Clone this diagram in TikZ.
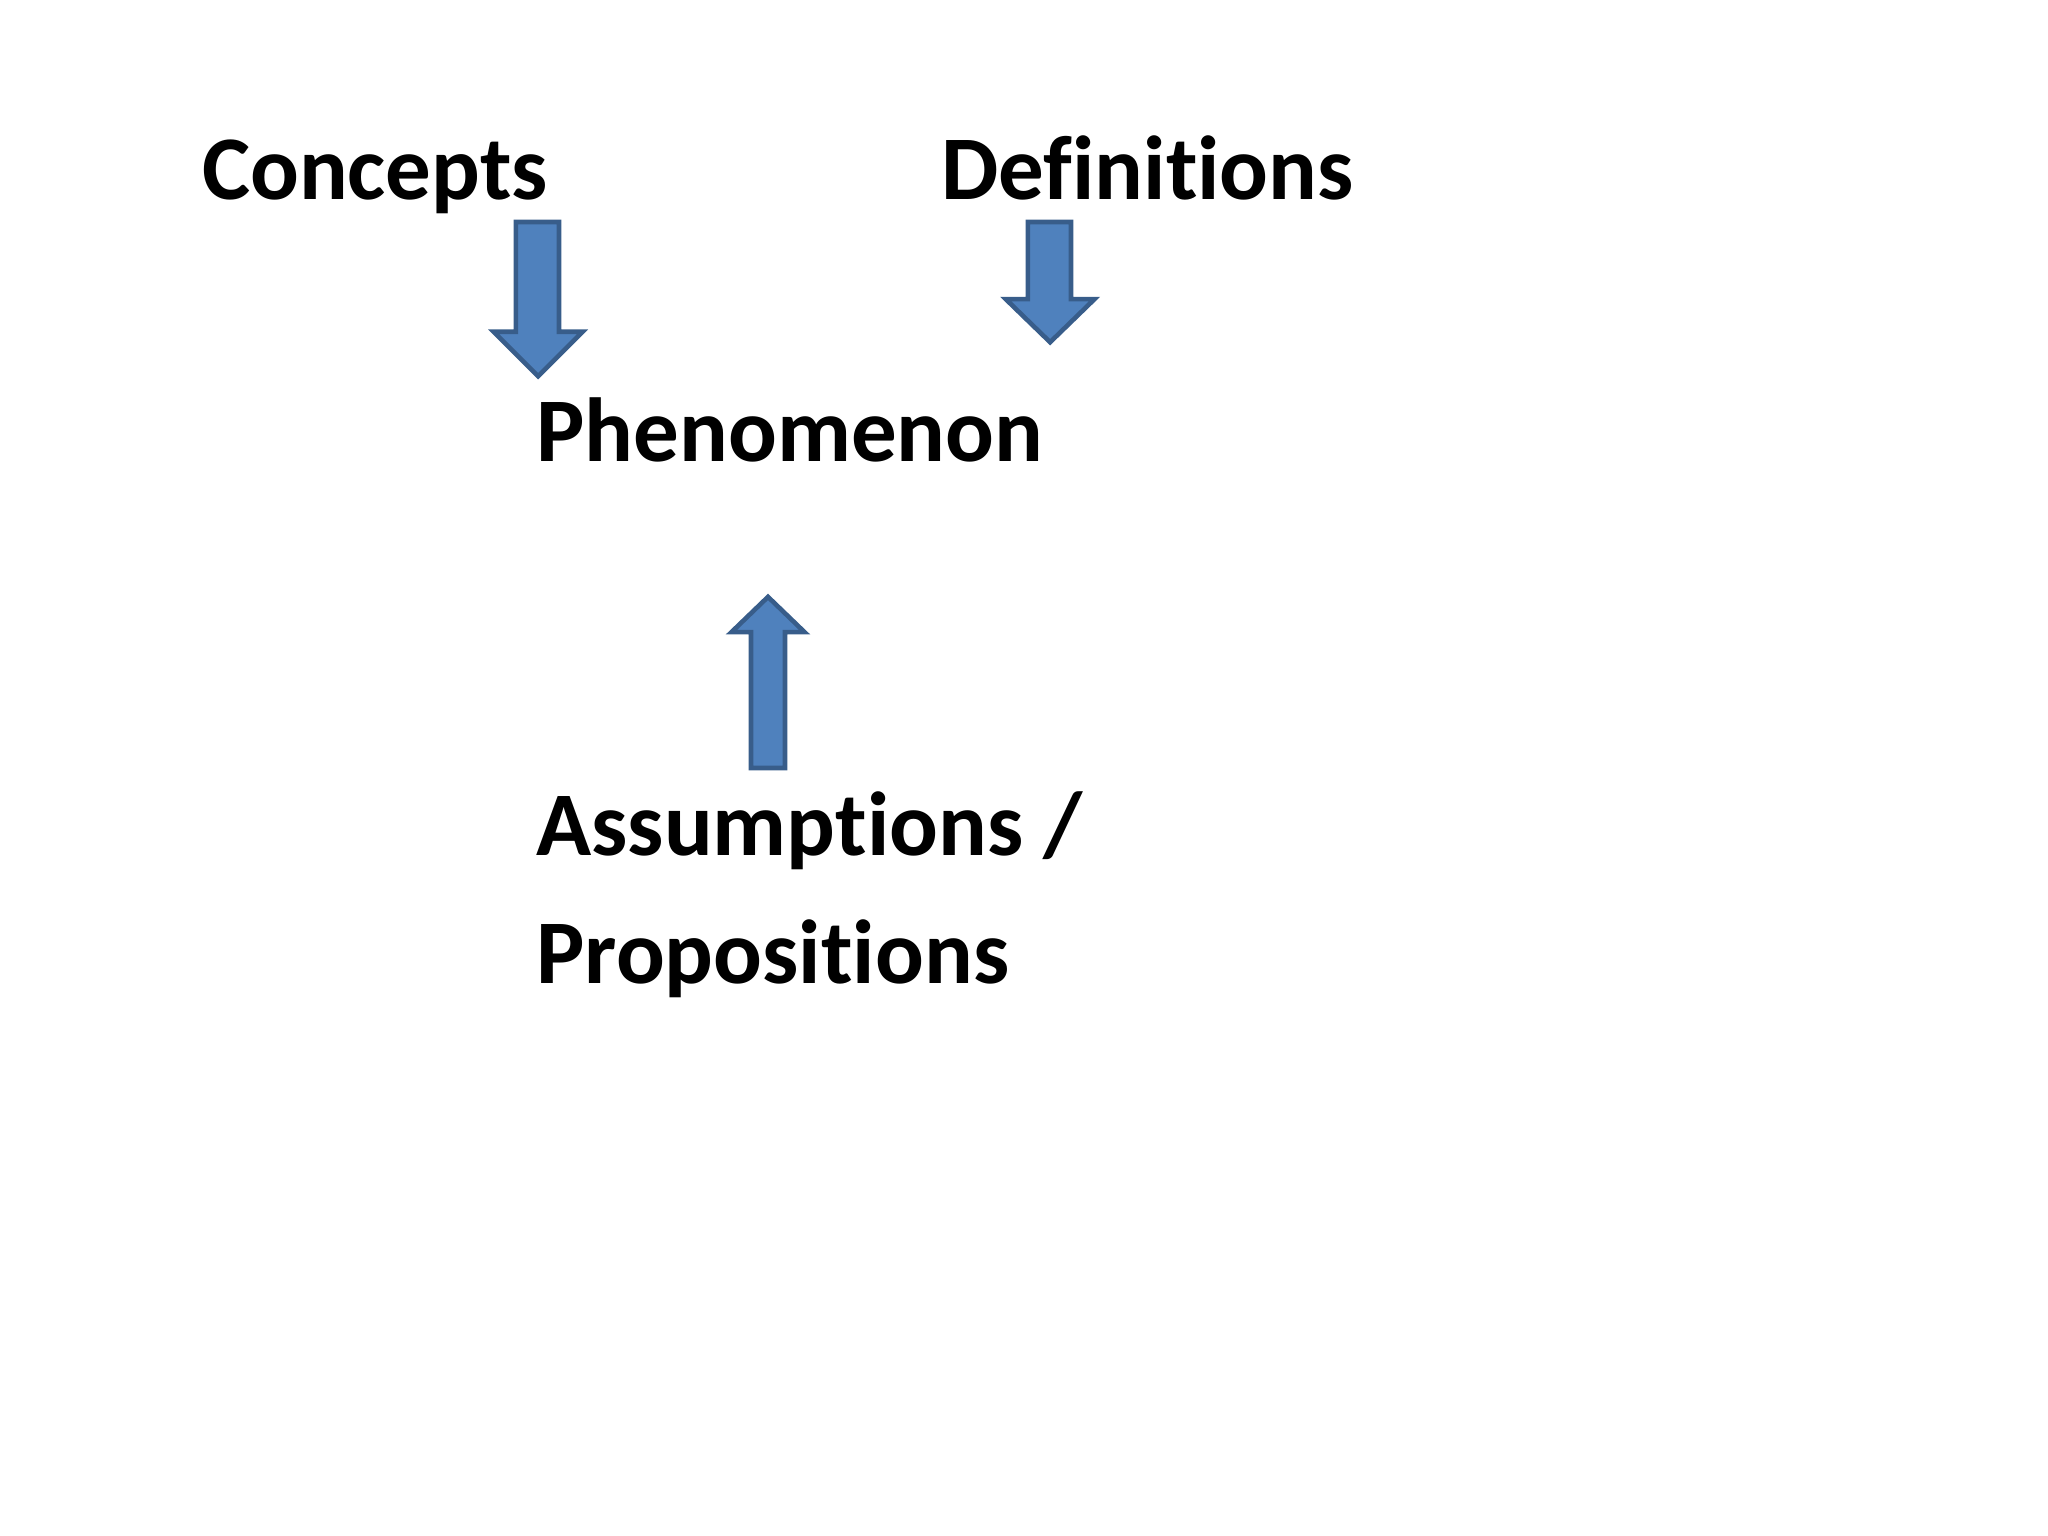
\documentclass[tikz,border=0pt]{standalone}
\usepackage{fontspec}
\setmainfont[Ligatures=NoCommon]{Carlito}
\begin{document}
\begin{tikzpicture}[x=0.01cm,y=-0.01cm,
  lbl/.style={anchor=base west,inner sep=0pt,font=\fontsize{19.8}{24}\selectfont\bfseries},
  blk/.style={fill={rgb,255:red,79;green,129;blue,189},draw={rgb,255:red,56;green,93;blue,138},line width=1pt,line join=miter}]
\useasboundingbox (0,0) rectangle (1568,1176);
\node[lbl] (concepts) at (154,153) {Concepts};
\node[lbl] (definitions) at (720,153) {Definitions};
\node[lbl] (phen) at (410,353) {Phenomenon};
\node[lbl] (assum) at (410,655) {Assumptions /};
\node[lbl] (prop) at (410,753) {Propositions};
\draw[blk] (395,170) -- (428,170) -- (428,254) -- (446,254) -- (412,288) -- (378,254) -- (395,254) -- cycle;
\draw[blk] (787,170) -- (820,170) -- (820,229) -- (838,229) -- (804,262) -- (770,229) -- (787,229) -- cycle;
\draw[blk] (575,588) -- (601,588) -- (601,484) -- (616,484) -- (588,457) -- (560,484) -- (575,484) -- cycle;
\end{tikzpicture}
\end{document}
